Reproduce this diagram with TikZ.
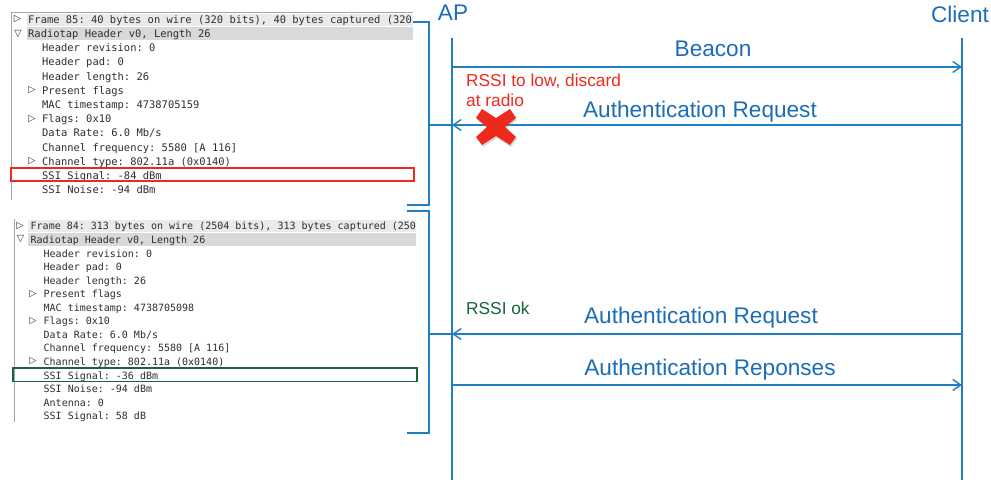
\documentclass[tikz,border=0pt]{standalone}
\usepackage{fontspec}
\setmainfont{Liberation Sans}
\setmonofont{DejaVu Sans Mono}
\newfontfamily\symfont{DejaVu Sans}
\usetikzlibrary{arrows.meta,shadows}
\definecolor{flowblue}{HTML}{1F7FC0}
\definecolor{labelblue}{HTML}{1B6DB8}
\definecolor{rssired}{HTML}{EE2A1F}
\definecolor{rssigreen}{HTML}{14663C}
\definecolor{pktgrey}{HTML}{D9D9D9}
\definecolor{pkttext}{HTML}{2E2E2E}
\tikzset{
  flow/.style={draw=flowblue, line width=2pt},
  msg/.style={flow, -{Straight Barb[length=8pt,width=11pt,line width=1.4pt]}},
  bigtext/.style={text=labelblue, font=\fontsize{22.6}{22.6}\selectfont, inner sep=0pt},
  note/.style={anchor=base west, inner sep=0pt, font=\fontsize{17.3}{17.3}\selectfont},
  pkttop/.style={anchor=base west, inner sep=0pt, text=pkttext, font=\ttfamily\fontsize{10.45}{10.45}\selectfont},
  pktlow/.style={anchor=base west, inner sep=0pt, text=pkttext, font=\ttfamily\fontsize{10}{10}\selectfont},
  twist/.style={inner sep=0pt, text=pkttext, font=\symfont\fontsize{9.5}{9.5}\selectfont},
  pktbar/.style={fill=pktgrey, draw=none},
  pktedge/.style={draw=black!35, line width=0.6pt},
}
\begin{document}
\begin{tikzpicture}[x=1pt, y=-1pt]
\useasboundingbox (0,0) rectangle (991,486);
\fill[white] (0,0) rectangle (991,486);
\fill[pktgrey!55] (27,14) rectangle (413,26.5);
\fill[pktbar] (27,27) rectangle (413,40.5);
\draw[pktedge] (413,12.5) -- (11,12.5) -- (11,200);
\node[pkttop] (topframe) at (28,23.3) {Frame 85: 40 bytes on wire (320 bits), 40 bytes captured (320};
\node[pkttop] (topradio) at (28,37.5) {Radiotap Header v0, Length 26};
\node[pkttop] (toprev) at (42,51.7) {Header revision: 0};
\node[pkttop] (toppad) at (42,65.9) {Header pad: 0};
\node[pkttop] (toplen) at (42,80.1) {Header length: 26};
\node[pkttop] (toppresent) at (42,94.3) {Present flags};
\node[pkttop] (topmac) at (42,108.5) {MAC timestamp: 4738705159};
\node[pkttop] (topflags) at (42,122.7) {Flags: 0x10};
\node[pkttop] (toprate) at (42,136.9) {Data Rate: 6.0 Mb/s};
\node[pkttop] (topfreq) at (42,151.1) {Channel frequency: 5580 [A 116]};
\node[pkttop] (toptype) at (42,165.3) {Channel type: 802.11a (0x0140)};
\node[pkttop] (topsignal) at (42,179.5) {SSI Signal: -84 dBm};
\node[pkttop] (topnoise) at (42,193.7) {SSI Noise: -94 dBm};
\node[twist] (toptwa) at (17.5,19.5) {▷};
\node[twist] (toptwb) at (18,34) {▽};
\node[twist] (toptwc) at (32,90.5) {▷};
\node[twist] (toptwd) at (32,119) {▷};
\node[twist] (toptwe) at (32,161.5) {▷};
\draw[draw=rssired, line width=1.6pt] (11,168) rectangle (414,181);
\fill[pktgrey!55] (28,220) rectangle (416,232.5);
\fill[pktbar] (28,233) rectangle (416,246);
\draw[pktedge] (14,219) -- (14,422);
\node[pktlow] (lowframe) at (30.5,230) {Frame 84: 313 bytes on wire (2504 bits), 313 bytes captured (250};
\node[pktlow] (lowradio) at (30.5,243.5) {Radiotap Header v0, Length 26};
\node[pktlow] (lowrev) at (43.5,257.1) {Header revision: 0};
\node[pktlow] (lowpad) at (43.5,270.6) {Header pad: 0};
\node[pktlow] (lowlen) at (43.5,284.2) {Header length: 26};
\node[pktlow] (lowpresent) at (43.5,297.7) {Present flags};
\node[pktlow] (lowmac) at (43.5,311.3) {MAC timestamp: 4738705098};
\node[pktlow] (lowflags) at (43.5,324.8) {Flags: 0x10};
\node[pktlow] (lowrate) at (43.5,338.4) {Data Rate: 6.0 Mb/s};
\node[pktlow] (lowfreq) at (43.5,351.9) {Channel frequency: 5580 [A 116]};
\node[pktlow] (lowtype) at (43.5,365.5) {Channel type: 802.11a (0x0140)};
\node[pktlow] (lowsignal) at (43.5,379) {SSI Signal: -36 dBm};
\node[pktlow] (lownoise) at (43.5,392.6) {SSI Noise: -94 dBm};
\node[pktlow] (lowant) at (43.5,406.1) {Antenna: 0};
\node[pktlow] (lowsnr) at (43.5,419.7) {SSI Signal: 58 dB};
\node[twist] (lowtwa) at (20,226) {▷};
\node[twist] (lowtwb) at (20.5,239.5) {▽};
\node[twist] (lowtwc) at (33,294) {▷};
\node[twist] (lowtwd) at (33,320.7) {▷};
\node[twist] (lowtwe) at (33,361) {▷};
\draw[draw=rssigreen, line width=1.6pt] (13,368.3) rectangle (417,381.7);
\node[bigtext] (ap) at (453,13) {AP};
\node[bigtext] (client) at (960,14) {Client};
\coordinate (aptop) at (452,38);
\coordinate (apbot) at (452,480);
\coordinate (clienttop) at (962,38);
\coordinate (clientbot) at (962,480);
\draw[flow] (aptop) -- (apbot);
\draw[flow] (clienttop) -- (clientbot);
\coordinate (beacona) at (452,67);
\coordinate (beaconb) at (962,67);
\coordinate (reqa) at (962,125);
\coordinate (reqb) at (452,125);
\coordinate (okreqa) at (962,334);
\coordinate (okreqb) at (452,334);
\coordinate (respa) at (452,385);
\coordinate (respb) at (962,385);
\draw[msg] (beacona) -- (beaconb);
\draw[msg] (reqa) -- (reqb);
\draw[msg] (okreqa) -- (okreqb);
\draw[msg] (respa) -- (respb);
\node[bigtext] (beacon) at (713,49) {Beacon};
\node[bigtext] (reqlow) at (700,112) {Authentication Request};
\node[bigtext] (reqok) at (701,318) {Authentication Request};
\node[bigtext] (resp) at (710,370) {Authentication Reponses};
\node[note, text=rssired] (lowa) at (466,87) {RSSI to low, discard};
\node[note, text=rssired] (lowb) at (466,107) {at radio};
\node[note, text=rssigreen] (okay) at (466,315) {RSSI ok};
\fill[rssired, drop shadow={shadow xshift=1pt, shadow yshift=-2pt, opacity=0.3}] (482,109) -- (496,118) -- (510,109) -- (516,118) -- (505,127) -- (516,137) -- (510,145) -- (496,136) -- (482,145) -- (476,137) -- (487,127) -- (476,118) -- cycle;
\coordinate (bracktopa) at (413,22);
\coordinate (bracktopb) at (429,22);
\coordinate (bracktopc) at (429,205);
\coordinate (bracktopd) at (407,205);
\coordinate (bracktopm) at (429,125);
\draw[flow] (bracktopa) -- (bracktopb) -- (bracktopc) -- (bracktopd);
\draw[flow] (bracktopm) -- (reqb);
\coordinate (bracklowa) at (407,211);
\coordinate (bracklowb) at (429,211);
\coordinate (bracklowc) at (429,433);
\coordinate (bracklowd) at (407,433);
\coordinate (bracklowm) at (429,334);
\draw[flow] (bracklowa) -- (bracklowb) -- (bracklowc) -- (bracklowd);
\draw[flow] (bracklowm) -- (okreqb);
\end{tikzpicture}
\end{document}
